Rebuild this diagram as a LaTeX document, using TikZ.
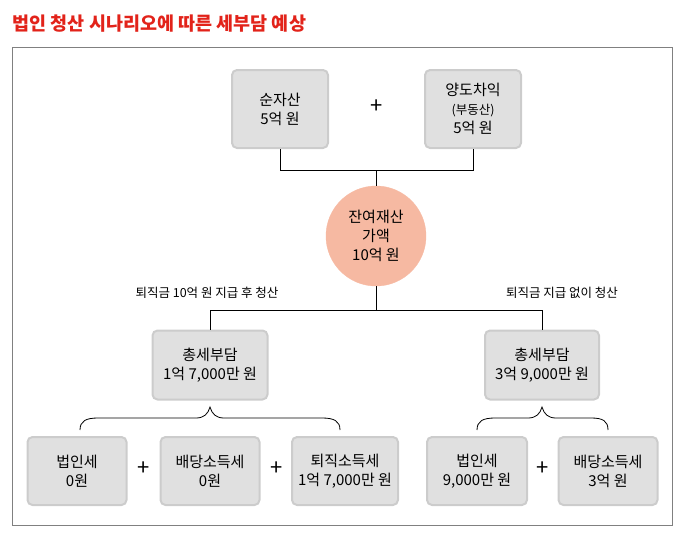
\documentclass[tikz,border=0pt]{standalone}
\usepackage{fontspec}
\setmainfont{Noto Sans CJK KR}
\definecolor{salmon}{HTML}{F6B9A2}
\definecolor{ttl}{HTML}{E2231A}
\begin{document}
\begin{tikzpicture}[x=1pt,y=-1pt,
  box/.style={draw=black!20,line width=2pt,fill=black!12,rounded corners=5pt,align=center,font=\fontsize{15}{19}\selectfont,inner sep=0pt},
  lbl/.style={font=\fontsize{12.5}{14}\selectfont},
  pl/.style={font=\fontsize{22}{22}\selectfont\addfontfeature{FakeBold=-0.3}},
  ln/.style={line width=0.8pt}]
\useasboundingbox (0,0) rectangle (684,535);
\node[anchor=west,text=ttl,font=\fontsize{18.5}{20}\selectfont\bfseries] (title) at (9,24) {법인 청산 시나리오에 따른 세부담 예상};
\draw[black!50,line width=0.8pt] (12,47) rectangle (672,525);
\node[box,minimum width=96pt,minimum height=78pt] (a) at (280,109) {순자산\\5억 원};
\node[box,minimum width=96pt,minimum height=78pt] (b) at (473,109) {양도차익\\{\fontsize{12.5}{16}\selectfont(부동산)}\\5억 원};
\node[pl] (p0) at (377,107) {+};
\node[circle,fill=salmon,draw=salmon,minimum size=100pt,align=center,font=\fontsize{15}{19}\selectfont,inner sep=0pt] (c) at (376,236) {잔여재산\\가액\\10억 원};
\coordinate (j1) at (280,170); \coordinate (j2) at (473,170); \coordinate (j0) at (376,170);
\draw[ln] (a.south) -- (j1) -- (j2) -- (b.south);
\draw[ln] (j0) -- (c.north);
\node[box,minimum width=115pt,minimum height=69pt] (l) at (210,365) {총세부담\\1억 7,000만 원};
\node[box,minimum width=114pt,minimum height=69pt] (r) at (542,365) {총세부담\\3억 9,000만 원};
\coordinate (k1) at (210,310); \coordinate (k2) at (542,310); \coordinate (k0) at (376,310);
\draw[ln] (l.north) -- (k1) -- (k2) -- (r.north);
\draw[ln] (c.south) -- (k0);
\node[lbl] (tl) at (207,293) {퇴직금 10억 원 지급 후 청산};
\node[lbl] (tr) at (562,293) {퇴직금 지급 없이 청산};
\node[box,minimum width=99pt,minimum height=68pt] (b1) at (77,471) {법인세\\0원};
\node[box,minimum width=99pt,minimum height=68pt] (b2) at (210,471) {배당소득세\\0원};
\node[box,minimum width=106pt,minimum height=68pt] (b3) at (345,471) {퇴직소득세\\1억 7,000만 원};
\node[box,minimum width=100pt,minimum height=68pt] (b4) at (477,471) {법인세\\9,000만 원};
\node[box,minimum width=99pt,minimum height=68pt] (b5) at (608,471) {배당소득세\\3억 원};
\node[pl] (p1) at (144,469) {+};
\node[pl] (p2) at (277,469) {+};
\node[pl] (p3) at (543,469) {+};
\draw[ln] (80,430) .. controls (80,421) and (86,418) .. (98,418) -- (196,418) .. controls (204,418) and (208,414) .. (210,407) .. controls (212,414) and (216,418) .. (224,418) -- (322,418) .. controls (334,418) and (340,421) .. (340,430);
\draw[ln] (477,430) .. controls (477,421) and (483,418) .. (495,418) -- (528,418) .. controls (536,418) and (540,414) .. (542,407) .. controls (544,414) and (548,418) .. (556,418) -- (591,418) .. controls (603,418) and (608,421) .. (608,430);
\end{tikzpicture}
\end{document}
